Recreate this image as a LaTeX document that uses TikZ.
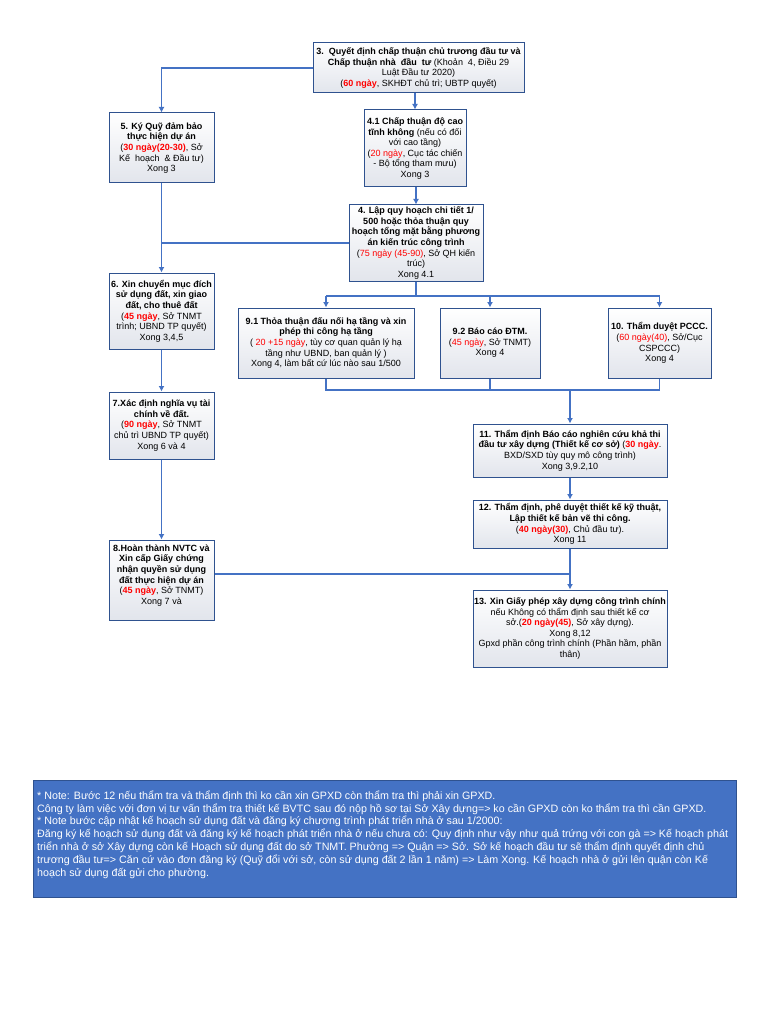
\documentclass[tikz,border=0pt]{standalone}
\usepackage{fontspec}
\setmainfont{Liberation Sans}
\usetikzlibrary{arrows.meta}
\definecolor{boxborder}{RGB}{47,82,143}
\definecolor{lineblue}{RGB}{68,114,196}
\definecolor{notefill}{RGB}{68,114,196}
\definecolor{noteborder}{RGB}{47,82,143}
\definecolor{boxbottom}{RGB}{226,229,236}
\newcommand{\rd}[1]{\textcolor{red}{#1}}
\begin{document}
\begin{tikzpicture}[x=1pt,y=-1pt,
  stepbox/.style={draw=boxborder, line width=1pt, top color=white, bottom color=boxbottom,
    align=center, font=\fontsize{9}{10.6}\selectfont, inner sep=0pt},
  txt/.style={align=center, font=\fontsize{9}{10.6}\selectfont, inner sep=0pt},
  conn/.style={draw=lineblue, line width=1.2pt},
  arr/.style={conn, -{Latex[length=5.5pt,width=6pt]}}]
\useasboundingbox[fill=white] (0,0) rectangle (768,1024);

\node[stepbox, minimum width=211pt, minimum height=50pt] (b3) at (418.5,68) {%
\textbf{3.\ \ Quyết định chấp thuận chủ trương đầu tư và}\\
\textbf{Chấp thuận nhà\ \ đầu\ \ tư} (Khoản\ \ 4, Điều 29\\
Luật Đầu tư 2020)\\
(\rd{\textbf{60 ngày}}, SKHĐT chủ trì; UBTP quyết)};

\node[stepbox, minimum width=105pt, minimum height=70pt] (b5) at (161.5,148) {%
\textbf{5. Ký Quỹ đảm bảo}\\
\textbf{thực hiện dự án}\\
(\rd{\textbf{30 ngày(20-30)}}, Sở\\
Kế\ \ hoạch\ \ \& Đầu tư)\\
Xong 3};

\node[stepbox, minimum width=102pt, minimum height=77pt] (b41) at (415,148.5) {%
\textbf{4.1 Chấp thuận độ cao}\\
\textbf{tĩnh không} (nếu có đối\\
với cao tầng)\\
(\rd{20 ngày}, Cục tác chiến\\
- Bộ tổng tham mưu)\\
Xong 3};

\node[stepbox, minimum width=134pt, minimum height=76pt] (b4) at (416,243) {%
\textbf{4. Lập quy hoạch chi tiết 1/}\\
\textbf{500 hoặc thỏa thuận quy}\\
\textbf{hoạch tổng mặt bằng phương}\\
\textbf{án kiến trúc công trình}\\
(\rd{75 ngày (45-90)}, Sở QH kiến\\
trúc)\\
Xong 4.1};

\node[stepbox, minimum width=105pt, minimum height=76pt] (b6) at (161.5,311) {%
\textbf{6. Xin chuyển mục đích}\\
\textbf{sử dụng đất, xin giao}\\
\textbf{đất, cho thuê đất}\\
(\rd{\textbf{45 ngày}}, Sở TNMT\\
trình; UBND TP quyết)\\
Xong 3,4,5};

\node[stepbox, minimum width=176pt, minimum height=70pt] (b91) at (326,343) {%
\textbf{9.1 Thỏa thuận đấu nối hạ tầng và xin}\\
\textbf{phép thi công hạ tầng}\\
( \rd{20 +15 ngày}, tùy cơ quan quản lý hạ\\
tầng như UBND, ban quản lý )\\
Xong 4, làm bất cứ lúc nào sau 1/500};

\node[stepbox, minimum width=100pt, minimum height=70pt] (b92) at (490,343) {%
\textbf{9.2 Báo cáo ĐTM.}\\
(\rd{45 ngày}, Sở TNMT)\\
Xong 4};

\node[stepbox, minimum width=103pt, minimum height=70pt] (b10) at (659.5,343) {%
\textbf{10. Thẩm duyệt PCCC.}\\
(\rd{60 ngày(40)}, Sở/Cục\\
CSPCCC)\\
Xong 4};

\node[stepbox, minimum width=105pt, minimum height=67pt] (b7) at (161.5,425.5) {%
\textbf{7.Xác định nghĩa vụ tài}\\
\textbf{chính về đất.}\\
(\rd{\textbf{90 ngày}}, Sở TNMT\\
chủ trì UBND TP quyết)\\
Xong 6 và 4};

\node[stepbox, minimum width=194pt, minimum height=53pt] (b11) at (570,450.5) {%
\textbf{11. Thẩm định Báo cáo nghiên cứu khả thi}\\
\textbf{đầu tư xây dựng (Thiết kế cơ sở)} (\rd{\textbf{30 ngày}}.\\
BXD/SXD tùy quy mô công trình)\\
Xong 3,9.2,10};

\node[stepbox, minimum width=194pt, minimum height=48pt] (b12) at (570,524) {%
\textbf{12. Thẩm định, phê duyệt thiết kế kỹ thuật,}\\
\textbf{Lập thiết kế bản vẽ thi công.}\\
(\rd{\textbf{40 ngày(30)}}, Chủ đầu tư).\\
Xong 11};

\node[stepbox, minimum width=105pt, minimum height=80pt] (b8) at (161.5,580) {};
\node[txt] (t8) at (161.5,575.5) {%
\textbf{8.Hoàn thành NVTC và}\\
\textbf{Xin cấp Giấy chứng}\\
\textbf{nhận quyền sử dụng}\\
\textbf{đất thực hiện dự án}\\
(\rd{\textbf{45 ngày}}, Sở TNMT)\\
Xong 7 và};

\node[stepbox, minimum width=194pt, minimum height=77pt] (b13) at (570,628.5) {%
\textbf{13. Xin Giấy phép xây dựng công trình chính}\\
nếu Không có thẩm định sau thiết kế cơ\\
sở.(\rd{\textbf{20 ngày(45)}}, Sở xây dựng).\\
Xong 8,12\\
Gpxd phần công trình chính (Phần hầm, phần\\
thân)};

% note box
\node[draw=noteborder, fill=notefill, line width=0.8pt, minimum width=703pt, minimum height=117pt, inner sep=0pt] (note) at (384.5,838.5) {};
\node[anchor=north west, align=left, inner sep=0pt, text=white, font=\fontsize{10.7}{12.8}\selectfont] (notetext) at (37,790.5) {%
* Note: Bước 12 nếu thẩm tra và thẩm định thì ko cần xin GPXD còn thẩm tra thì phải xin GPXD.\\
Công ty làm việc với đơn vị tư vấn thẩm tra thiết kế BVTC sau đó nộp hồ sơ tại Sở Xây dựng=> ko cần GPXD còn ko thẩm tra thì cần GPXD.\\
* Note bước cập nhật kế hoạch sử dụng đất và đăng ký chương trình phát triển nhà ở sau 1/2000:\\
Đăng ký kế hoạch sử dụng đất và đăng ký kế hoạch phát triển nhà ở nếu chưa có: Quy định như vậy như quả trứng với con gà => Kế hoạch phát\\
triển nhà ở sở Xây dựng còn kế Hoạch sử dụng đất do sở TNMT. Phường => Quận => Sở. Sở kế hoạch đầu tư sẽ thẩm định quyết định chủ\\
trương đầu tư=> Căn cứ vào đơn đăng ký (Quỹ đổi với sở, còn sử dụng đất 2 lần 1 năm) => Làm Xong. Kế hoạch nhà ở gửi lên quận còn Kế\\
hoạch sử dụng đất gửi cho phường.};

% junction coordinates
\coordinate (j4) at (416,296);
\coordinate (j9) at (570,390);

% connectors
\draw[arr] (b3.west) -| (b5.north);
\draw[arr] (b41.north |- b3.south) -- (b41.north);
\draw[arr] (b41.south) -- (b4.north |- b41.south) -- (b4.north);
\draw[arr] (b5.south) -- (b6.north);
\draw[conn] (b4.west) -- (b4.west -| b5.south);
\draw[conn] (b4.south) -- (j4);
\draw[conn] (b91.north |- j4) -- (b10.north |- j4);
\draw[arr] (b91.north |- j4) -- (b91.north);
\draw[arr] (b92.north |- j4) -- (b92.north);
\draw[arr] (b10.north |- j4) -- (b10.north);
\draw[conn] (b91.south) -- (b91.south |- j9) -- (b10.south |- j9) -- (b10.south);
\draw[conn] (b92.south) -- (b92.south |- j9);
\draw[arr] (j9) -- (b11.north);
\draw[arr] (b6.south) -- (b7.north);
\draw[arr] (b7.south) -- (b8.north);
\draw[arr] (b11.south) -- (b12.north);
\draw[arr] (b12.south) -- (b13.north);
\draw[conn] (b8.east |- 0,574) -- (b13.north |- 0,574);
\end{tikzpicture}
\end{document}
